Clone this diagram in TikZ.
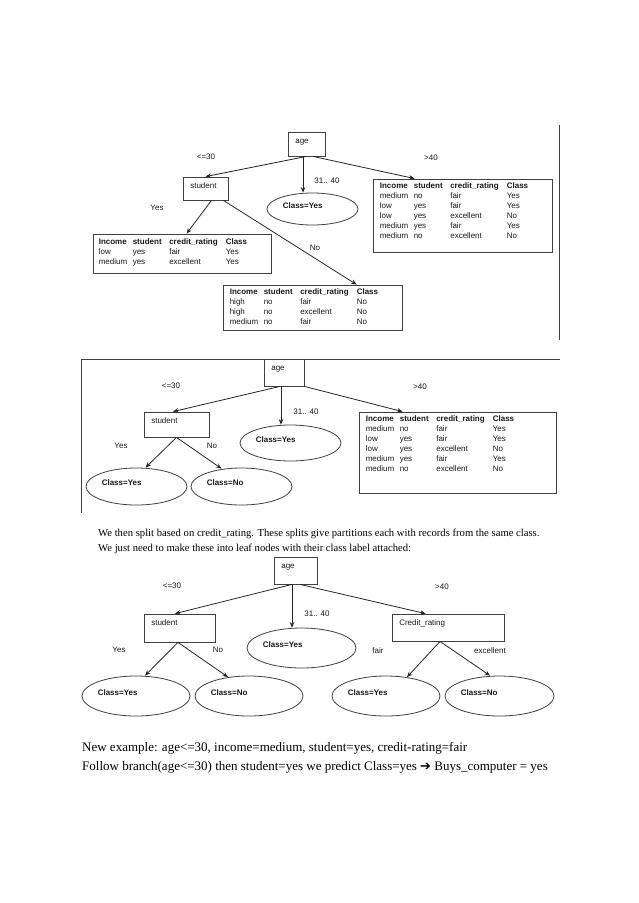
\documentclass[tikz,border=0pt]{standalone}
\usepackage{fontspec}
\setmainfont{Liberation Sans}
\newfontfamily\serifpara{Liberation Serif}
\newfontfamily\dejavu{DejaVu Sans}
\usetikzlibrary{shapes.geometric,arrows.meta}
\newcommand{\trow}[4]{\makebox[34pt][l]{#1}\makebox[36.5pt][l]{#2}\makebox[56.5pt][l]{#3}#4}
\begin{document}
\begin{tikzpicture}[x=1pt,y=-1pt,
  dfont/.style={font=\fontsize{8}{10}\selectfont},
  lbl/.style={dfont, text=black!90, inner sep=0pt},
  blbl/.style={font=\fontsize{8}{10}\selectfont\bfseries, text=black!90, inner sep=0pt},
  box/.style={draw=black!75, line width=0.8pt, inner sep=0pt, rectangle},
  boxt/.style={box, label={[lbl, anchor=base west, xshift=7.5pt, yshift=-11.8pt]north west:#1}},
  ell/.style={draw=black!75, line width=0.8pt, ellipse, inner sep=0pt},
  ellt/.style={ell, label={[blbl, anchor=base west, xshift=16pt, yshift=0.6pt]west:#1}},
  arr/.style={draw=black!85, line width=0.8pt, -{Stealth[length=5.5pt,width=4.5pt]}},
  tbl/.style={dfont, text=black!90, inner sep=0pt, align=left, anchor=north west},
  frame/.style={draw=black!75, line width=0.8pt},
  para/.style={font=\serifpara\fontsize{10.65}{13}\selectfont, inner sep=0pt, anchor=base west},
  bigpara/.style={font=\serifpara\fontsize{13}{16}\selectfont, inner sep=0pt, anchor=base west},
]
\fill[white] (0,0) rectangle (638,903);
\useasboundingbox (0,0) rectangle (638,903);

% ================= top diagram =================
\draw[frame] (559,125) -- (559,340);
\node[boxt={age}, minimum width=37pt, minimum height=24pt] (a1) at (306.5,144) {};
\node[boxt={student}, minimum width=45pt, minimum height=23pt] (s1) at (205.5,188.5) {};
\node[ellt={Class=Yes}, minimum width=91pt, minimum height=32pt] (c1) at (312.5,209) {};
\node[box, minimum width=178pt, minimum height=39pt] (t1) at (182,253.5) {};
\node[tbl] (t1c) at ([xshift=6pt,yshift=-5pt]t1.north west)
  {\textbf{\trow{Income}{student}{credit\_rating}{Class}}\\
   \trow{low}{yes}{fair}{Yes}\\
   \trow{medium}{yes}{excellent}{Yes}};
\node[box, minimum width=179pt, minimum height=45pt] (t2) at (312.5,307.5) {};
\node[tbl] (t2c) at ([xshift=7pt,yshift=-4pt]t2.north west)
  {\textbf{\trow{Income}{student}{credit\_rating}{Class}}\\
   \trow{high}{no}{fair}{No}\\
   \trow{high}{no}{excellent}{No}\\
   \trow{medium}{no}{fair}{No}};
\node[box, minimum width=179pt, minimum height=73pt] (t3) at (462.5,215.5) {};
\node[tbl] (t3c) at ([xshift=7pt,yshift=-4pt]t3.north west)
  {\textbf{\trow{Income}{student}{credit\_rating}{Class}}\\
   \trow{medium}{no}{fair}{Yes}\\
   \trow{low}{yes}{fair}{Yes}\\
   \trow{low}{yes}{excellent}{No}\\
   \trow{medium}{yes}{fair}{Yes}\\
   \trow{medium}{no}{excellent}{No}};
\draw[arr] (a1.south) -- (s1.north);
\draw[arr] ([xshift=-3.5pt]a1.south) -- ([xshift=-3.5pt]a1.south |- c1.north);
\draw[arr] ([xshift=6.5pt]a1.south) -- ([xshift=42pt]t3.north west);
\draw[arr] ([xshift=6pt]s1.south) -- ([xshift=94pt]t1.north west);
\draw[arr] ([xshift=-5pt]s1.south east) -- ([xshift=134pt]t2.north west);
\node[lbl] (l1a) at (206,157) {<=30};
\node[lbl] (l1b) at (327,181) {31.. 40};
\node[lbl] (l1c) at (431,158) {>40};
\node[lbl] (l1d) at (157,208) {Yes};
\node[lbl] (l1e) at (315,248) {No};

% ================= middle diagram =================
\draw[frame] (560,359) -- (81,359) -- (81,513);
\node[boxt={age}, minimum width=40pt, minimum height=27pt] (a2) at (284,372.5) {};
\node[boxt={student}, minimum width=65pt, minimum height=25pt] (s2) at (176.5,424.5) {};
\node[ellt={Class=Yes}, minimum width=101pt, minimum height=36pt] (c2) at (290.5,443) {};
\node[ellt={Class=Yes}, minimum width=101pt, minimum height=37pt] (y2) at (136.5,486.5) {};
\node[ellt={Class=No}, minimum width=101pt, minimum height=37pt] (n2) at (241.5,486.5) {};
\node[box, minimum width=197pt, minimum height=81pt] (tm) at (457.5,452.5) {};
\node[tbl] (tmc) at ([xshift=7pt,yshift=-3.5pt]tm.north west)
  {\textbf{\trow{Income}{student}{credit\_rating}{Class}}\\
   \trow{medium}{no}{fair}{Yes}\\
   \trow{low}{yes}{fair}{Yes}\\
   \trow{low}{yes}{excellent}{No}\\
   \trow{medium}{yes}{fair}{Yes}\\
   \trow{medium}{no}{excellent}{No}};
\draw[arr] ([xshift=-4pt]a2.south) -- ([xshift=-3.5pt]s2.north);
\draw[arr] ([xshift=-3pt]a2.south) -- ([xshift=-3pt]a2.south |- c2.north);
\draw[arr] (a2.south east) -- ([xshift=44pt]tm.north west);
\draw[arr] (s2.south) -- ([xshift=9pt]y2.north);
\draw[arr] (s2.south) -- ([xshift=-20pt,yshift=-1pt]n2.north);
\node[lbl] (l2a) at (171,386) {<=30};
\node[lbl] (l2b) at (306,412) {31.. 40};
\node[lbl] (l2c) at (420,387) {>40};
\node[lbl] (l2d) at (121,446) {Yes};
\node[lbl] (l2e) at (212,446) {No};

% ================= text =================
\node[para] (p1) at (98,536) {We then split based on credit\_rating. These splits give partitions each with records from the same class.};
\node[para] (p2) at (98,551) {We just need to make these into leaf nodes with their class label attached:};

% ================= bottom diagram =================
\node[boxt={age}, minimum width=43pt, minimum height=27pt] (a3) at (295.5,570.5) {};
\node[boxt={student}, minimum width=71pt, minimum height=28pt] (s3) at (179.5,628) {};
\node[boxt={Credit\_rating}, minimum width=112pt, minimum height=27pt] (r3) at (448,627.5) {};
\node[ellt={Class=Yes}, minimum width=109pt, minimum height=40pt] (c3) at (301.5,648) {};
\node[ellt={Class=Yes}, minimum width=108pt, minimum height=40pt] (y3) at (136,696) {};
\node[ellt={Class=No}, minimum width=108pt, minimum height=40pt] (n3) at (249,696) {};
\node[ellt={Class=Yes}, minimum width=108pt, minimum height=40pt] (y4) at (386,696) {};
\node[ellt={Class=No}, minimum width=109pt, minimum height=40pt] (n4) at (499.5,696) {};
\draw[arr] ([xshift=-3.5pt]a3.south) -- ([xshift=-4.5pt]s3.north);
\draw[arr] ([xshift=-3.5pt]a3.south) -- ([xshift=-3.5pt]a3.south |- c3.north);
\draw[arr] ([xshift=4.5pt]a3.south) -- ([xshift=34pt]r3.north west);
\draw[arr] ([xshift=-1.5pt]s3.south) -- ([xshift=9pt]y3.north);
\draw[arr] ([xshift=-1.5pt]s3.south) -- ([xshift=-21pt,yshift=-1.5pt]n3.north);
\draw[arr] ([xshift=-8pt]r3.south) -- ([xshift=21pt,yshift=-1.5pt]y4.north);
\draw[arr] ([xshift=-8pt]r3.south) -- ([xshift=-9.5pt]n4.north);
\node[lbl] (l3a) at (172,586) {<=30};
\node[lbl] (l3b) at (317,614) {31.. 40};
\node[lbl] (l3c) at (442,587) {>40};
\node[lbl] (l3d) at (119,650) {Yes};
\node[lbl] (l3e) at (218,650) {No};
\node[lbl] (l3f) at (378,651) {fair};
\node[lbl] (l3g) at (490,651) {excellent};

% ================= bottom text =================
\node[bigpara] (p3) at (82,751) {New example: age<=30, income=medium, student=yes, credit-rating=fair};
\node[bigpara] (p4) at (82,770) {Follow branch(age<=30) then student=yes we predict Class=yes {\dejavu ➔} Buys\_computer = yes};
\end{tikzpicture}
\end{document}
